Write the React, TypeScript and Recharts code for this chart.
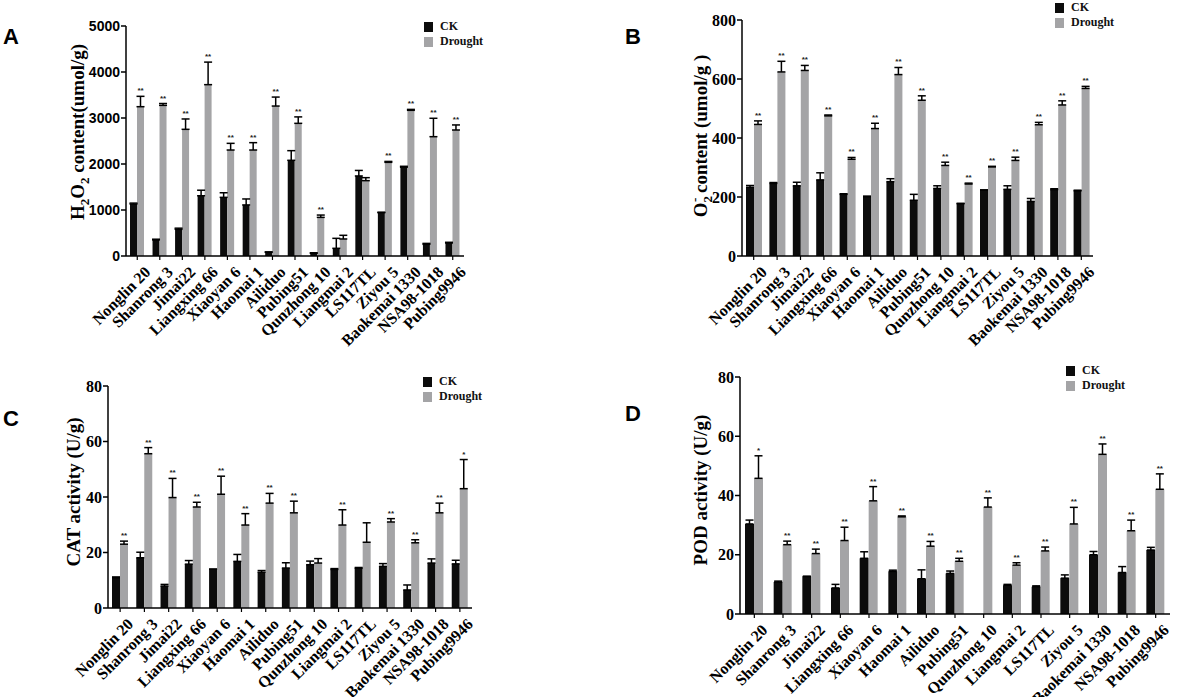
import React from "react";
import { Bar, BarChart, ErrorBar, Label, LabelList, Legend, XAxis, YAxis } from "recharts";

// cultivars, same order in all four panels
const categories = [
  "Nonglin 20",
  "Shanrong 3",
  "Jimai22",
  "Liangxing 66",
  "Xiaoyan 6",
  "Haomai 1",
  "Ailiduo",
  "Pubing51",
  "Qunzhong 10",
  "Liangmai 2",
  "LS117TL",
  "Ziyou 5",
  "Baokemai 1330",
  "NSA98-1018",
  "Pubing9946",
];

// A: H2O2 content
const h2o2Ck = [1130, 350, 580, 1310, 1275, 1110, 80, 2080, 60, 167, 1740, 942, 1930, 254, 283];
const h2o2CkErr = [20, 15, 25, 120, 100, 130, 10, 210, 10, 217, 120, 10, 20, 20, 15];
const h2o2Dr = [3246, 3275, 2754, 3725, 2304, 2304, 3260, 2884, 840, 370, 1638, 2036, 3167, 2594, 2739];
const h2o2DrErr = [225, 40, 225, 490, 145, 160, 195, 140, 50, 80, 65, 20, 20, 400, 110];
const h2o2Sig = ["**", "**", "**", "**", "**", "**", "**", "**", "**", "", "", "**", "**", "**", "**"];
const h2o2Ticks = [0, 1000, 2000, 3000, 4000, 5000];

// B: O2- content
const o2Ck = [233, 246, 238, 258, 209, 201, 252, 189, 229, 178, 224, 226, 185, 225, 221];
const o2CkErr = [6, 3, 12, 24, 2, 2, 10, 20, 9, 0, 0, 12, 10, 3, 2];
const o2Dr = [446, 624, 629, 475, 328, 432, 615, 528, 307, 244, 302, 324, 445, 512, 568];
const o2DrErr = [12, 36, 17, 3, 6, 18, 24, 15, 11, 3, 2, 11, 8, 14, 7];
const o2Sig = ["**", "**", "**", "**", "**", "**", "**", "**", "**", "**", "**", "**", "**", "**", "**"];
const o2Ticks = [0, 200, 400, 600, 800];

// C: CAT activity
const catCk = [10.9, 18.1, 7.9, 15.8, 14.0, 16.8, 12.9, 14.4, 15.6, 13.9, 14.3, 15.0, 6.5, 16.2, 15.9];
const catCkErr = [0.3, 2.0, 0.6, 1.3, 0, 2.5, 0.6, 1.9, 1.3, 0.3, 0.3, 1.0, 1.8, 1.5, 1.3];
const catDr = [23.0, 55.6, 39.8, 36.4, 41.0, 29.9, 37.8, 34.3, 16.2, 29.9, 23.7, 31.0, 23.5, 34.3, 43.0];
const catDrErr = [1.1, 2.2, 6.9, 1.7, 6.5, 4.1, 3.5, 4.2, 1.6, 5.5, 7.0, 1.2, 1.1, 3.5, 10.5];
const catSig = ["**", "**", "**", "**", "**", "**", "**", "**", "", "**", "", "**", "**", "**", "*"];

// D: POD activity
const podCk = [30.4, 10.8, 12.7, 8.8, 18.8, 14.4, 11.9, 13.7, 0, 9.7, 9.2, 12.1, 20.0, 14.0, 21.6];
const podCkErr = [1.3, 0.3, 0, 1.2, 2.2, 0.4, 3.0, 0.8, 0, 0.3, 0.3, 1.1, 1.1, 2.0, 0.9];
const podDr = [45.8, 23.4, 20.4, 24.8, 38.2, 32.8, 22.9, 17.8, 36.1, 16.5, 21.3, 30.4, 53.9, 28.1, 42.1];
const podDrErr = [7.6, 1.2, 1.5, 4.5, 4.8, 0.3, 1.6, 1.0, 3.1, 0.8, 1.3, 5.6, 3.5, 3.6, 5.2];
const podSig = ["*", "**", "**", "**", "**", "**", "**", "**", "**", "**", "**", "**", "**", "**", "**"];
const activityTicks = [0, 20, 40, 60, 80];

const SERIF = "'Liberation Serif', 'Times New Roman', serif";
const SANS = "'Liberation Sans', Arial, sans-serif";
const CK_COLOR = "#0c0c0c";
const DR_COLOR = "#a4a4a6";

function XTick({ x, y, payload }: any) {
  return (
    <g transform={`translate(${x + 6},${y + 3})`}>
      <text
        textAnchor="end"
        transform="rotate(-45)"
        dy="0.72em"
        fontFamily={SERIF}
        fontWeight="bold"
        fontSize={16}
        fill="#000"
      >
        {payload.value}
      </text>
    </g>
  );
}

function LegendBox({ payload }: any) {
  return (
    <div style={{ fontFamily: SERIF, fontWeight: "bold", fontSize: 12, color: "#111", lineHeight: "15px" }}>
      {(payload || []).map((item: any) => (
        <div key={item.value} style={{ display: "flex", alignItems: "center" }}>
          <span style={{ display: "inline-block", width: 9, height: 10, background: item.color, marginRight: 7 }} />
          {item.value}
        </div>
      ))}
    </div>
  );
}

interface PanelProps {
  left: number;
  top: number;
  width: number;
  height: number;
  plot: [number, number, number, number]; // left, top, right, bottom in chart coords
  ck: number[];
  ckErr: number[];
  dr: number[];
  drErr: number[];
  sig: string[];
  domain: [number, number];
  ticks: number[];
  barSize: number;
  sansTicks?: boolean;
  title: (props: any) => React.ReactElement;
  legend: { left: number; top: number };
  letter: string;
  letterPos: { left: number; top: number };
}

function Panel(p: PanelProps) {
  const data = categories.map((name, i) => ({
    name,
    ck: p.ck[i],
    dr: p.dr[i],
    ckE: [0, p.ckErr[i]],
    drE: [0, p.drErr[i]],
    idx: i,
  }));
  const [pl, pt, pr, pb] = p.plot;

  const stars = (props: any) => {
    const vb = props.viewBox || props;
    const i = props.value;
    const v = p.dr[i];
    if (!p.sig[i] || !v) return null;
    const errPx = (vb.height / v) * p.drErr[i];
    return (
      <text
        x={vb.x + vb.width / 2}
        y={vb.y - errPx - 3}
        textAnchor="middle"
        fontFamily={SANS}
        fontWeight="bold"
        fontSize={8}
        fill="#222"
      >
        {p.sig[i]}
      </text>
    );
  };

  return (
    <div style={{ position: "absolute", left: p.left, top: p.top }}>
      <BarChart
        width={p.width}
        height={p.height}
        data={data}
        margin={{ top: pt, right: p.width - pr, left: 0, bottom: 0 }}
        barGap={0}
        barSize={p.barSize}
      >
        <XAxis
          dataKey="name"
          interval={0}
          height={p.height - pb}
          tick={<XTick />}
          tickSize={4}
          axisLine={{ stroke: "#000", strokeWidth: 1.5 }}
          tickLine={{ stroke: "#000", strokeWidth: 1.2 }}
        />
        <YAxis
          width={pl}
          domain={p.domain}
          ticks={p.ticks}
          interval={0}
          allowDataOverflow
          tickSize={5}
          tickMargin={1}
          axisLine={{ stroke: "#000", strokeWidth: 1.5 }}
          tickLine={{ stroke: "#000", strokeWidth: 1.5 }}
          tick={{
            fontFamily: p.sansTicks ? SANS : SERIF,
            fontWeight: "bold",
            fontSize: p.sansTicks ? 14 : 16,
            fill: "#000",
          }}
        >
          <Label content={p.title} />
        </YAxis>
        <Legend
          layout="vertical"
          align="center"
          verticalAlign="middle"
          content={<LegendBox />}
          wrapperStyle={{ left: p.legend.left, top: p.legend.top, width: "auto", height: "auto" }}
        />
        <Bar dataKey="ck" name="CK" fill={CK_COLOR} isAnimationActive={false}>
          <ErrorBar dataKey="ckE" width={4} strokeWidth={1.5} stroke="#000" />
        </Bar>
        <Bar dataKey="dr" name="Drought" fill={DR_COLOR} isAnimationActive={false}>
          <ErrorBar dataKey="drE" width={4} strokeWidth={1.5} stroke="#000" />
          <LabelList dataKey="idx" content={stars} />
        </Bar>
      </BarChart>
      <div
        style={{
          position: "absolute",
          left: p.letterPos.left,
          top: p.letterPos.top,
          fontFamily: SANS,
          fontWeight: "bold",
          fontSize: 22,
          lineHeight: 1,
        }}
      >
        {p.letter}
      </div>
    </div>
  );
}

const titleStyle = { fontFamily: SERIF, fontWeight: "bold" as const, fontSize: 19, fill: "#000" };

const h2o2Title = () => (
  <text x={84} y={132} transform="rotate(-90 84 132)" textAnchor="middle" {...titleStyle}>
    H<tspan fontSize={13} dy={5}>2</tspan>
    <tspan dy={-5}>O</tspan>
    <tspan fontSize={13} dy={5}>2</tspan>
    <tspan dy={-5}> content(umol/g)</tspan>
  </text>
);

const o2Title = () => (
  <text x={107} y={136} transform="rotate(-90 107 136)" textAnchor="middle" {...titleStyle}>
    O<tspan fontSize={13} dy={5}>2</tspan>
    <tspan fontSize={13} dx={-6} dy={-13}>-</tspan>
    <tspan dy={8}> content (umol/g )</tspan>
  </text>
);

const catTitle = () => (
  <text x={80} y={142} transform="rotate(-90 80 142)" textAnchor="middle" {...titleStyle}>
    CAT activity (U/g)
  </text>
);

const podTitle = () => (
  <text x={107} y={140} transform="rotate(-90 107 140)" textAnchor="middle" {...titleStyle}>
    POD activity (U/g)
  </text>
);

export default function App() {
  return (
    <div style={{ position: "absolute", left: 0, top: 0, width: 1200, height: 697, background: "#fff", overflow: "hidden" }}>
      <Panel
        left={0}
        top={0}
        width={600}
        height={350}
        plot={[126, 26, 464, 256]}
        ck={h2o2Ck}
        ckErr={h2o2CkErr}
        dr={h2o2Dr}
        drErr={h2o2DrErr}
        sig={h2o2Sig}
        domain={[0, 5000]}
        ticks={h2o2Ticks}
        barSize={7}
        sansTicks
        title={h2o2Title}
        legend={{ left: 424, top: 19 }}
        letter="A"
        letterPos={{ left: 3, top: 26 }}
      />
      <Panel
        left={600}
        top={0}
        width={600}
        height={350}
        plot={[142, 20, 493, 256]}
        ck={o2Ck}
        ckErr={o2CkErr}
        dr={o2Dr}
        drErr={o2DrErr}
        sig={o2Sig}
        domain={[0, 800]}
        ticks={o2Ticks}
        barSize={8}
        title={o2Title}
        legend={{ left: 455, top: 0 }}
        letter="B"
        letterPos={{ left: 25, top: 26 }}
      />
      <Panel
        left={0}
        top={350}
        width={600}
        height={347}
        plot={[108, 36, 472, 258]}
        ck={catCk}
        ckErr={catCkErr}
        dr={catDr}
        drErr={catDrErr}
        sig={catSig}
        domain={[0, 80]}
        ticks={activityTicks}
        barSize={8}
        title={catTitle}
        legend={{ left: 423, top: 24 }}
        letter="C"
        letterPos={{ left: 3, top: 58 }}
      />
      <Panel
        left={600}
        top={350}
        width={600}
        height={347}
        plot={[140, 27, 570, 264]}
        ck={podCk}
        ckErr={podCkErr}
        dr={podDr}
        drErr={podDrErr}
        sig={podSig}
        domain={[0, 80]}
        ticks={activityTicks}
        barSize={9}
        title={podTitle}
        legend={{ left: 466, top: 13 }}
        letter="D"
        letterPos={{ left: 25, top: 53 }}
      />
    </div>
  );
}
